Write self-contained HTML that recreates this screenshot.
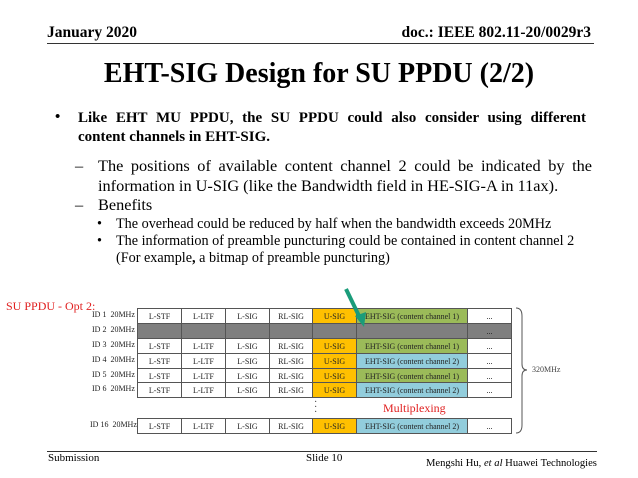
<!DOCTYPE html>
<html><head><meta charset="utf-8">
<style>
body{margin:0;width:638px;height:478px;background:#fff;position:relative;overflow:hidden;font-family:"Liberation Serif",serif;color:#000}
.a{position:absolute;white-space:nowrap}
.j{display:block;text-align:justify;text-align-last:justify;white-space:normal}
.cell{position:absolute;box-sizing:border-box;border:1px solid #555;font-size:8px;display:flex;align-items:center;justify-content:center;color:#222}
.lbl{position:absolute;font-size:8px;color:#222}
</style></head><body>
<div class="a" style="left:47px;top:24px;font-size:15.5px;font-weight:bold">January 2020</div>
<div class="a" style="right:47px;top:24px;font-size:15.5px;font-weight:bold">doc.: IEEE 802.11-20/0029r3</div>
<div class="a" style="left:47px;top:43px;width:547px;height:1px;background:#333"></div>
<div class="a" style="left:0;width:638px;text-align:center;top:58px;font-size:28px;font-weight:bold">EHT-SIG Design for SU PPDU (2/2)</div>

<div class="a" style="left:55px;top:109px;font-size:15px;font-weight:bold">•</div>
<div class="a" style="left:78px;top:109px;width:508px;white-space:normal;font-size:15px;font-weight:bold;line-height:19px"><span class="j">Like EHT MU PPDU, the SU PPDU could also consider using different</span>content channels in EHT-SIG.</div>
<div class="a" style="left:75px;top:156px;font-size:16.3px">–</div>
<div class="a" style="left:98px;top:156px;width:494px;white-space:normal;font-size:16.3px;line-height:20px"><span class="j">The positions of available content channel 2 could be indicated by the</span>information in U-SIG (like the Bandwidth field in HE-SIG-A in 11ax).</div>
<div class="a" style="left:75px;top:195px;font-size:16.3px">–</div>
<div class="a" style="left:98px;top:195px;font-size:16.3px">Benefits</div>
<div class="a" style="left:97px;top:216px;font-size:14.2px">•</div>
<div class="a" style="left:116px;top:216px;font-size:14.2px">The overhead could be reduced by half when the bandwidth exceeds 20MHz</div>
<div class="a" style="left:97px;top:233px;font-size:14.2px">•</div>
<div class="a" style="left:116px;top:233px;font-size:14.2px">The information of preamble puncturing could be contained in content channel 2</div>
<div class="a" style="left:116px;top:250px;font-size:14.2px">(For example<b>,</b> a bitmap of preamble puncturing)</div>

<div class="a" style="left:6px;top:299px;font-size:12px;color:#e02020">SU PPDU - Opt 2:</div>
<div id="diag"></div>
<svg class="a" style="left:0;top:0" width="638" height="478">
<line x1="346" y1="289" x2="360" y2="318" stroke="#1a9c7a" stroke-width="4"/>
<polygon points="355,316 366,312 364,327" fill="#1a9c7a"/>
<path d="M516,308 Q522,308 522,316 L522,364 Q522,370 527,370 Q522,370 522,376 L522,425 Q522,433 516,433" fill="none" stroke="#555" stroke-width="1"/>
</svg>
<div class="a" style="left:532px;top:365px;font-size:8px;color:#444">320MHz</div>
<div class="a" style="left:314px;top:400px;font-size:10px;line-height:5px;color:#444">·<br>·<br>·</div>
<div class="a" style="left:383px;top:401px;font-size:12px;color:#e02020">Multiplexing</div>

<div class="a" style="left:47px;top:451px;width:550px;height:1px;background:#333"></div>
<div class="a" style="left:48px;top:452px;font-size:11px">Submission</div>
<div class="a" style="left:306px;top:452px;font-size:11px">Slide 10</div>
<div class="a" style="left:426px;top:458px;font-size:10.6px">Mengshi Hu, <i>et al</i> Huawei Technologies</div>

<script>
const rowIds=["ID 1","ID 2","ID 3","ID 4","ID 5","ID 6","ID 16"];
const rowTops=[308,323,338,353,368,382,418];
const rowKinds=[1,0,1,2,1,2,2];
const colEdges=[137,181,225,269,312,356,467,511];
const fields=["L-STF","L-LTF","L-SIG","RL-SIG","U-SIG","",""];
const d=document.getElementById('diag');
rowIds.forEach((id,i)=>{
  const top=rowTops[i],h=15;
  const l=document.createElement('div');l.className='lbl';
  
  
  l.style.left=(id.length>4?90:92)+'px';l.style.top=(top+2)+'px';l.textContent=id+'\u00a0\u00a020MHz';d.appendChild(l);
  for(let c=0;c<7;c++){
    const e=document.createElement('div');e.className='cell';
    
    
    e.style.left=colEdges[c]+'px';e.style.top=top+'px';
    e.style.width=(colEdges[c+1]-colEdges[c]+1)+'px';e.style.height=(h+1)+'px';
    let bg='#fff',t=fields[c];
    if(rowKinds[i]===0){bg='#7f7f7f';t=c===6?'...':'';}
    else{
      if(c===4)bg='#ffc000';
      if(c===5){bg=rowKinds[i]===1?'#9bbb59':'#92cddc';t='EHT-SIG (content channel '+rowKinds[i]+')';}
      if(c===6)t='...';
    }
    e.style.background=bg;e.textContent=t;d.appendChild(e);
  }
});
</script>
</body></html>
